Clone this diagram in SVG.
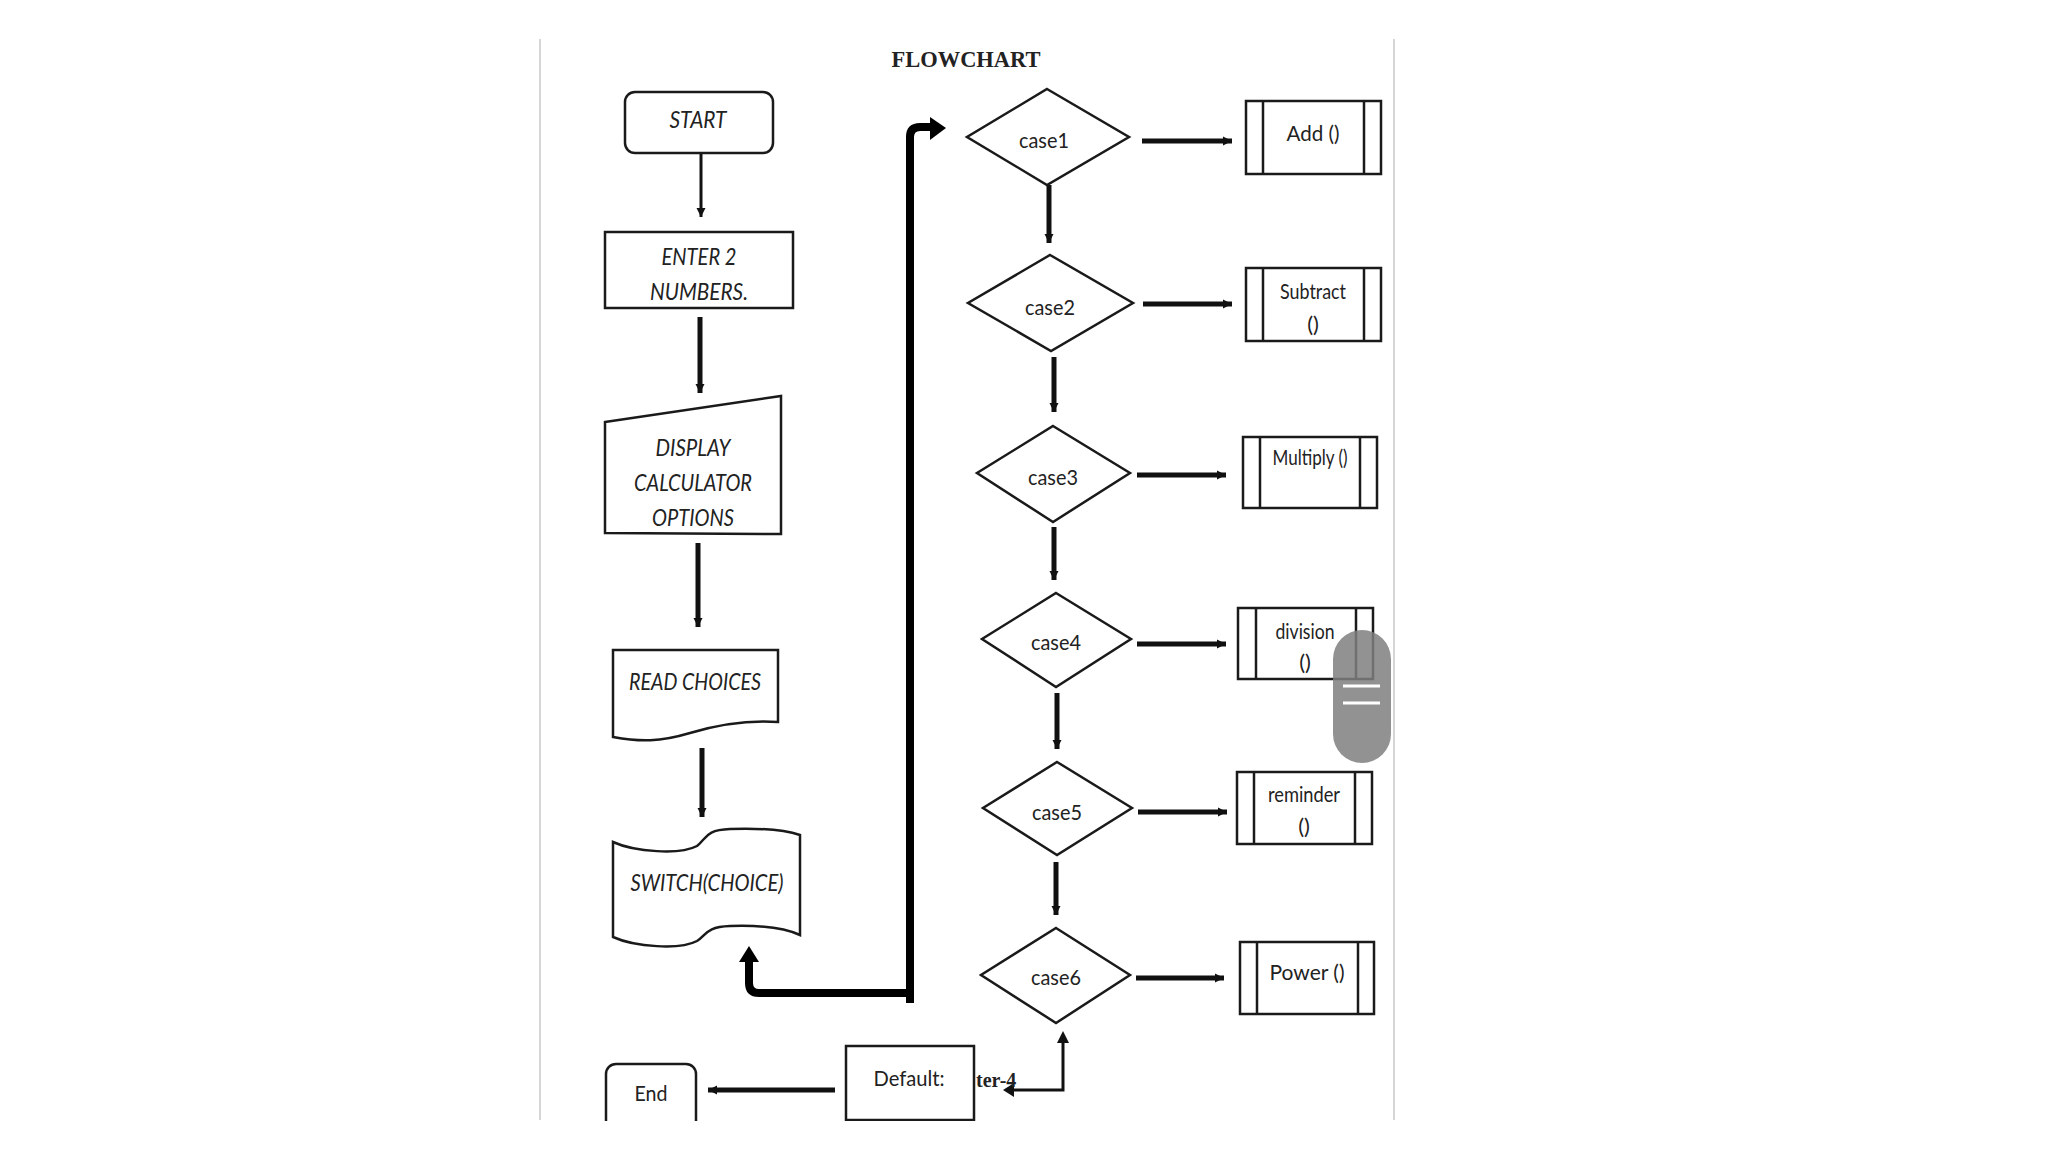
<svg xmlns="http://www.w3.org/2000/svg" width="2048" height="1152" viewBox="0 0 2048 1152">
<defs>
<style>
.shape{fill:#fff;stroke:#1a1a1a;stroke-width:2.5}
.line{fill:none;stroke:#111;stroke-width:5}
.thin{fill:none;stroke:#111;stroke-width:3}
.loop{fill:none;stroke:#000;stroke-width:8;stroke-linejoin:round}
.it{font-family:Lato,"Liberation Sans",sans-serif;font-style:italic;font-size:24px;fill:#222;text-anchor:middle}
.tx{font-family:Lato,"Liberation Sans",sans-serif;font-size:22px;fill:#222;text-anchor:middle}
.border{stroke:#d6d6d6;stroke-width:2}
</style>
<marker id="ah" markerUnits="userSpaceOnUse" markerWidth="12" markerHeight="12" refX="9" refY="6" orient="auto">
<path d="M0,1.5 L9,6 L0,10.5 Z" fill="#111"/>
</marker>
</defs>
<rect width="2048" height="1152" fill="#fff"/>
<line class="border" x1="540" y1="39" x2="540" y2="1120"/>
<line class="border" x1="1394" y1="39" x2="1394" y2="1120"/>
<text x="966" y="67" font-family="'Liberation Serif',serif" font-weight="bold" font-size="23" fill="#222" text-anchor="middle" textLength="149" lengthAdjust="spacingAndGlyphs">FLOWCHART</text>

<g id="connectors">
<line class="thin" x1="701" y1="153" x2="701" y2="217" marker-end="url(#ah)"/>
<line class="line" x1="700" y1="317" x2="700" y2="393" marker-end="url(#ah)"/>
<line class="line" x1="698" y1="543" x2="698" y2="627" marker-end="url(#ah)"/>
<line class="line" x1="702" y1="748" x2="702" y2="817" marker-end="url(#ah)"/>
<line class="line" x1="1142" y1="141" x2="1232" y2="141" marker-end="url(#ah)"/>
<line class="line" x1="1049" y1="185" x2="1049" y2="243" marker-end="url(#ah)"/>
<line class="line" x1="1143" y1="304" x2="1232" y2="304" marker-end="url(#ah)"/>
<line class="line" x1="1054" y1="357" x2="1054" y2="412" marker-end="url(#ah)"/>
<line class="line" x1="1137" y1="475" x2="1226" y2="475" marker-end="url(#ah)"/>
<line class="line" x1="1054" y1="527" x2="1054" y2="580" marker-end="url(#ah)"/>
<line class="line" x1="1137" y1="644" x2="1226" y2="644" marker-end="url(#ah)"/>
<line class="line" x1="1057" y1="693" x2="1057" y2="749" marker-end="url(#ah)"/>
<line class="line" x1="1138" y1="812" x2="1227" y2="812" marker-end="url(#ah)"/>
<line class="line" x1="1056" y1="862" x2="1056" y2="915" marker-end="url(#ah)"/>
<line class="line" x1="1136" y1="978" x2="1224" y2="978" marker-end="url(#ah)"/>
<line class="line" x1="835" y1="1090" x2="708" y2="1090" marker-end="url(#ah)"/>
<path class="thin" d="M1012,1090 H1063 V1040"/>
<polygon points="1003,1090 1014,1083 1014,1097" fill="#111"/>
<polygon points="1063,1031 1057,1043 1069,1043" fill="#111"/>
<path class="loop" d="M910,1003 V137 Q910,127 920,127 H932"/>
<polygon points="946,128 930,117 930,140" fill="#000"/>
<path class="loop" d="M910,993 H759 Q749,993 749,983 V960"/>
<polygon points="749,946 739,962 759,962" fill="#000"/>
</g>

<g id="start"><rect class="shape" x="625" y="92" width="148" height="61" rx="10"/><text class="it" x="698" y="128" textLength="57" lengthAdjust="spacingAndGlyphs">START</text></g>
<g id="enter"><rect class="shape" x="605" y="232" width="188" height="76"/><text class="it" x="699" y="265" textLength="75" lengthAdjust="spacingAndGlyphs">ENTER 2</text><text class="it" x="699" y="300" textLength="98" lengthAdjust="spacingAndGlyphs">NUMBERS.</text></g>
<g id="display"><polygon class="shape" points="605,422 781,396 781,534 605,533"/><text class="it" x="693" y="456" textLength="75" lengthAdjust="spacingAndGlyphs">DISPLAY</text><text class="it" x="693" y="491" textLength="118" lengthAdjust="spacingAndGlyphs">CALCULATOR</text><text class="it" x="693" y="526" textLength="82" lengthAdjust="spacingAndGlyphs">OPTIONS</text></g>
<g id="read"><path class="shape" d="M613,650 H778 V722 C750,720 720,724 690,733 C660,742 640,742 613,737 Z"/><text class="it" x="695" y="690" textLength="132" lengthAdjust="spacingAndGlyphs">READ CHOICES</text></g>
<g id="switch"><path class="shape" d="M613,842 C635,852 680,855 697,846 C707,838 705,830 730,829 C760,828 785,830 800,835 V935 C785,928 760,925 730,926 C705,927 707,935 697,941 C680,950 635,947 613,937 Z"/><text class="it" x="707" y="891" textLength="153" lengthAdjust="spacingAndGlyphs">SWITCH(CHOICE)</text></g>

<g id="case1"><polygon class="shape" points="1047,89 1129,137 1047,185 967,137"/><text class="tx" x="1044" y="148" textLength="50" lengthAdjust="spacingAndGlyphs">case1</text></g>
<g id="case2"><polygon class="shape" points="1050,255 1133,303 1051,351 968,303"/><text class="tx" x="1050" y="315" textLength="50" lengthAdjust="spacingAndGlyphs">case2</text></g>
<g id="case3"><polygon class="shape" points="1053,426 1130,473 1053,522 977,473"/><text class="tx" x="1053" y="485" textLength="50" lengthAdjust="spacingAndGlyphs">case3</text></g>
<g id="case4"><polygon class="shape" points="1056,593 1131,639 1056,687 982,639"/><text class="tx" x="1056" y="650" textLength="50" lengthAdjust="spacingAndGlyphs">case4</text></g>
<g id="case5"><polygon class="shape" points="1057,762 1132,808 1057,855 983,808"/><text class="tx" x="1057" y="820" textLength="50" lengthAdjust="spacingAndGlyphs">case5</text></g>
<g id="case6"><polygon class="shape" points="1056,928 1130,975 1056,1023 981,975"/><text class="tx" x="1056" y="985" textLength="50" lengthAdjust="spacingAndGlyphs">case6</text></g>

<g id="add"><rect class="shape" x="1246" y="101" width="135" height="73"/><line class="shape" x1="1263" y1="101" x2="1263" y2="174"/><line class="shape" x1="1364" y1="101" x2="1364" y2="174"/><text class="tx" x="1313" y="141" textLength="53" lengthAdjust="spacingAndGlyphs">Add ()</text></g>
<g id="subtract"><rect class="shape" x="1246" y="268" width="135" height="73"/><line class="shape" x1="1263" y1="268" x2="1263" y2="341"/><line class="shape" x1="1364" y1="268" x2="1364" y2="341"/><text class="tx" x="1313" y="299" font-size="19" textLength="66" lengthAdjust="spacingAndGlyphs">Subtract</text><text class="tx" x="1313" y="332" font-size="19">()</text></g>
<g id="multiply"><rect class="shape" x="1243" y="437" width="134" height="71"/><line class="shape" x1="1260" y1="437" x2="1260" y2="508"/><line class="shape" x1="1360" y1="437" x2="1360" y2="508"/><text class="tx" x="1310" y="465" font-size="18" textLength="75" lengthAdjust="spacingAndGlyphs">Multiply ()</text></g>
<g id="division"><rect class="shape" x="1238" y="608" width="135" height="71"/><line class="shape" x1="1256" y1="608" x2="1256" y2="679"/><line class="shape" x1="1356" y1="608" x2="1356" y2="679"/><text class="tx" x="1305" y="639" font-size="19" textLength="59" lengthAdjust="spacingAndGlyphs">division</text><text class="tx" x="1305" y="670" font-size="19">()</text></g>
<g id="reminder"><rect class="shape" x="1237" y="772" width="135" height="72"/><line class="shape" x1="1254" y1="772" x2="1254" y2="844"/><line class="shape" x1="1355" y1="772" x2="1355" y2="844"/><text class="tx" x="1304" y="802" font-size="19" textLength="72" lengthAdjust="spacingAndGlyphs">reminder</text><text class="tx" x="1304" y="834" font-size="19">()</text></g>
<g id="power"><rect class="shape" x="1240" y="942" width="134" height="72"/><line class="shape" x1="1257" y1="942" x2="1257" y2="1014"/><line class="shape" x1="1358" y1="942" x2="1358" y2="1014"/><text class="tx" x="1307" y="980" textLength="75" lengthAdjust="spacingAndGlyphs">Power ()</text></g>

<g id="default"><rect class="shape" x="846" y="1046" width="128" height="74"/><text class="tx" x="909" y="1086" textLength="71" lengthAdjust="spacingAndGlyphs">Default:</text></g>
<text x="976" y="1087" font-family="'Liberation Serif',serif" font-weight="bold" font-size="20" fill="#222">ter-4</text>
<g id="end"><rect class="shape" x="606" y="1064" width="90" height="70" rx="10"/><text class="tx" x="651" y="1101" textLength="33" lengthAdjust="spacingAndGlyphs">End</text></g>

<rect x="0" y="1121" width="2048" height="31" fill="#fff"/>

<g id="scrollbar">
<rect x="1333" y="630" width="58" height="133" rx="29" fill="#7f7f7f" fill-opacity="0.85"/>
<line x1="1343" y1="686" x2="1380" y2="686" stroke="#fff" stroke-width="3"/>
<line x1="1343" y1="703" x2="1380" y2="703" stroke="#fff" stroke-width="3"/>
</g>
</svg>
